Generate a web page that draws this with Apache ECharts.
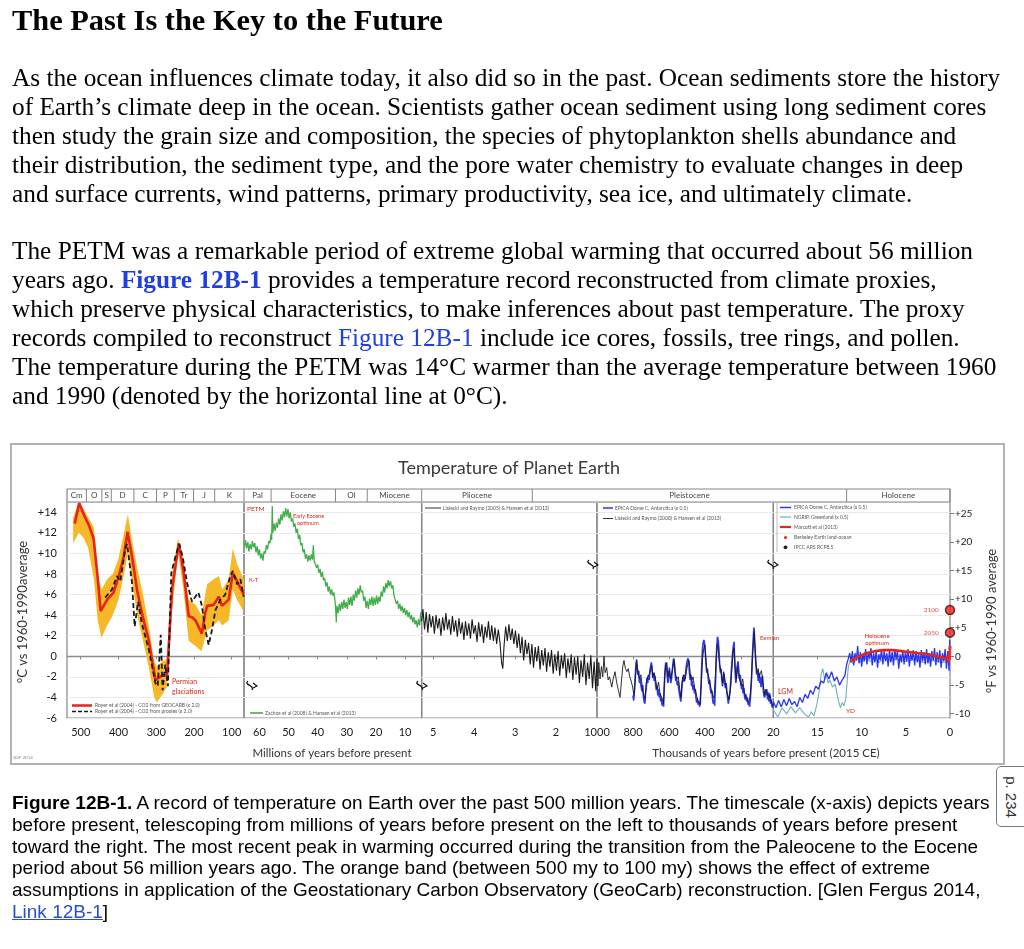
<!DOCTYPE html>
<html lang="en">
<head>
<meta charset="utf-8">
<title>The Past Is the Key to the Future</title>
<script src="https://cdn.jsdelivr.net/npm/echarts@6/dist/echarts.min.js"></script>
<style>
  body { margin: 0; width: 1024px; height: 949px; background: #fff; position: relative; overflow: hidden; }
  #chart { position: absolute; left: 0; top: 0; width: 1024px; height: 949px; z-index: 0; }
  .blk { position: absolute; left: 12px; white-space: nowrap; color: #000; z-index: 1; }
  #title { top: 2px; font: bold 30.4px/36px "Liberation Serif", serif; }
  .para { font: 25.3px/29px "Liberation Serif", serif; }
  #p1 { top: 63px; }
  #p2 { top: 236px; }
  .fig { color: #1f3fe0; }
  #caption { top: 792px; font: 19px/21.8px "Liberation Sans", Arial, sans-serif; }
  #caption a { color: #2a4fc9; text-decoration: underline; }
  #tag { position: absolute; left: 996px; top: 766px; width: 34px; height: 61px; border: 1px solid #7a7a7a;
         border-radius: 5px; box-sizing: border-box; z-index: 1; background: #fff; }
  #tag span { position: absolute; left: 14px; top: 50%; transform: translate(-50%, -50%) rotate(90deg);
              font: 15px "Liberation Sans", sans-serif; color: #333; white-space: nowrap; }
</style>
</head>
<body>
<div id="chart"></div>

<div id="title" class="blk">The Past Is the Key to the Future</div>
<div id="p1" class="blk para">
As the ocean influences climate today, it also did so in the past. Ocean sediments store the history<br>
of Earth’s climate deep in the ocean. Scientists gather ocean sediment using long sediment cores<br>
then study the grain size and composition, the species of phytoplankton shells abundance and<br>
their distribution, the sediment type, and the pore water chemistry to evaluate changes in deep<br>
and surface currents, wind patterns, primary productivity, sea ice, and ultimately climate.
</div>
<div id="p2" class="blk para">
The PETM was a remarkable period of extreme global warming that occurred about 56 million<br>
years ago. <b class="fig">Figure 12B-1</b> provides a temperature record reconstructed from climate proxies,<br>
which preserve physical characteristics, to make inferences about past temperature. The proxy<br>
records compiled to reconstruct <span class="fig">Figure 12B-1</span> include ice cores, fossils, tree rings, and pollen.<br>
The temperature during the PETM was 14°C warmer than the average temperature between 1960<br>
and 1990 (denoted by the horizontal line at 0°C).
</div>
<div id="caption" class="blk">
<b>Figure 12B-1.</b> A record of temperature on Earth over the past 500 million years. The timescale (x-axis) depicts years<br>
before present, telescoping from millions of years before present on the left to thousands of years before present<br>
toward the right. The most recent peak in warming occurred during the transition from the Paleocene to the Eocene<br>
period about 56 million years ago. The orange band (between 500 my to 100 my) shows the effect of extreme<br>
assumptions in application of the Geostationary Carbon Observatory (GeoCarb) reconstruction. [Glen Fergus 2014,<br>
<a>Link 12B-1</a>]
</div>
<div id="tag"><span>p. 234</span></div>

<script>
// ---- data: [age, °C vs 1960-1990] ----
// panel 1, millions of years
var royerGeocarb = [[516,12.9],[504,14.9],[492,13.8],[479,12.8],[466,11.5],[456,8.0],[447,4.4],[430,5.5],[413,6.2],[399,7.8],[386,9.7],[376,12.1],[364,9.7],[351,6.5],[338,4.2],[320,1.6],[302,-2.3],[285,-1.9],[271,-1.8],[258,6.5],[240,11.0],[227,8.1],[214,3.9],[205,3.8],[196,3.5],[179,2.2],[170,4.2],[165,4.9],[148,5.0],[134,5.8],[126,4.9],[108,5.5],[97,8.1],[86,7.3],[68,6.0]];
var royerProxy = [[435,5.7],[417,6.5],[404,7.8],[395,7.3],[382,10.5],[377,10.9],[364,7.1],[357,2.9],[348,5.3],[338,3.2],[320,0.7],[302,-2.6],[296,-2.9],[288,2.1],[283,-3.3],[276,-0.8],[269,-2.9],[260,8.1],[249,9.7],[239,10.9],[230,9.7],[218,7.1],[205,5.3],[196,5.8],[188,6.2],[179,4.9],[170,2.6],[161,1.1],[152,2.6],[143,4.5],[130,5.5],[117,6.0],[104,7.8],[97,8.3],[86,7.0],[77,7.5],[68,5.8]];
var geocarbAge = [520,505,492,480,465,455,445,430,415,400,385,375,365,350,335,320,305,298,285,272,258,242,228,214,196,180,165,148,134,125,108,97,86,68];
var geocarbLo = [11.0,12.0,11.5,10.5,7.5,3.5,1.8,3.0,4.0,5.5,8.0,10.0,7.5,4.0,1.5,-1.0,-4.0,-4.5,-3.8,-3.0,4.5,10.0,6.5,1.5,1.0,0.5,2.5,3.0,3.5,3.0,3.5,6.5,5.5,4.3];
var geocarbHi = [13.5,15.0,14.3,13.5,12.5,8.0,6.5,7.5,8.0,9.5,12.0,13.8,11.5,8.5,6.0,3.0,-0.5,-1.0,-0.5,-0.3,8.0,11.5,9.0,5.5,5.0,4.0,7.0,7.5,7.8,6.5,7.5,10.5,9.0,7.5];

// panel 2, millions of years
var zachos = [[65.2,10.6],[64.8,11.3],[64.4,10.5],[64.0,11.1],[63.6,10.2],[63.2,10.9],[62.8,10.4],[62.4,11.2],[62.0,10.6],[61.6,11.0],[61.2,10.1],[60.8,10.7],[60.4,9.8],[60.0,10.4],[59.6,9.5],[59.2,10.0],[58.8,9.3],[58.4,10.2],[58.0,10.0],[57.6,10.8],[57.2,10.4],[56.8,11.2],[56.4,11.0],[56.0,11.9],[55.8,11.3],[55.6,14.6],[55.4,12.0],[55.0,12.9],[54.6,12.2],[54.2,13.0],[53.8,12.5],[53.4,13.4],[53.0,12.8],[52.6,13.8],[52.2,13.2],[51.8,14.1],[51.4,13.5],[51.0,14.4],[50.6,13.6],[50.2,14.3],[49.8,13.4],[49.4,14.0],[49.0,13.1],[48.6,13.4],[48.2,12.6],[47.8,12.9],[47.4,12.0],[47.0,12.4],[46.6,11.4],[46.2,11.8],[45.8,10.8],[45.4,11.0],[45.0,10.1],[44.6,10.4],[44.2,9.5],[43.8,9.9],[43.4,9.2],[43.0,9.8],[42.6,9.3],[42.2,9.9],[41.8,9.4],[41.5,10.8],[41.2,9.2],[40.8,9.0],[40.4,8.6],[40.0,8.9],[39.6,8.1],[39.2,8.5],[38.8,7.7],[38.4,8.2],[38.0,7.4],[37.6,7.6],[37.2,6.8],[36.8,7.2],[36.4,6.3],[36.0,6.8],[35.6,6.0],[35.2,6.5],[34.8,5.9],[34.4,6.2],[34.0,5.2],[33.8,4.4],[33.6,3.3],[33.4,4.9],[33.0,4.2],[32.6,5.1],[32.2,4.4],[31.8,5.3],[31.4,4.6],[31.0,5.5],[30.6,4.7],[30.2,5.3],[29.8,4.6],[29.4,5.7],[29.0,5.0],[28.6,5.8],[28.2,4.9],[27.8,6.0],[27.4,5.4],[27.0,6.4],[26.6,5.7],[26.2,6.6],[25.8,6.0],[25.4,6.9],[25.0,6.2],[24.6,6.4],[24.2,5.4],[23.8,5.8],[23.4,4.7],[23.0,5.4],[22.6,4.6],[22.2,5.6],[21.8,5.0],[21.4,5.8],[21.0,4.9],[20.6,5.7],[20.2,5.0],[19.8,5.9],[19.4,5.1],[19.0,5.8],[18.6,5.3],[18.2,6.3],[17.8,5.8],[17.4,6.8],[17.0,6.2],[16.6,7.1],[16.2,6.6],[15.8,7.4],[15.4,6.8],[15.0,7.3],[14.6,6.6],[14.2,6.9],[13.8,5.9],[13.4,6.0],[13.0,5.1],[12.6,5.4],[12.2,4.6],[11.8,5.1],[11.4,4.4],[11.0,4.9],[10.6,4.2],[10.2,4.7],[9.8,4.0],[9.4,4.5],[9.0,3.8],[8.6,4.3],[8.2,3.6],[7.8,4.0],[7.4,3.3],[7.0,3.8],[6.6,3.1],[6.2,3.5],[5.8,2.8],[5.4,3.6],[5.0,3.0],[4.6,4.3]];

// panel 3, millions of years
var lisieckiMa = [[5.28,3.4],[5.25,4.6],[5.21,2.6],[5.17,4.3],[5.13,2.3],[5.09,4.1],[5.05,2.8],[5.01,3.9],[4.97,2.2],[4.93,4.0],[4.89,2.7],[4.85,3.7],[4.81,2.0],[4.77,3.8],[4.73,2.5],[4.69,4.2],[4.65,2.6],[4.61,3.6],[4.57,2.1],[4.53,3.9],[4.49,2.4],[4.45,3.5],[4.41,1.9],[4.37,3.7],[4.33,2.2],[4.29,3.3],[4.25,1.6],[4.21,3.4],[4.17,2.0],[4.13,3.2],[4.09,1.7],[4.05,3.6],[4.01,2.2],[3.97,3.0],[3.93,1.4],[3.89,3.3],[3.85,1.9],[3.81,3.1],[3.77,1.3],[3.73,2.9],[3.69,1.8],[3.65,3.4],[3.61,1.6],[3.57,3.0],[3.53,1.5],[3.49,2.8],[3.45,1.2],[3.41,2.6],[3.37,1.4],[3.33,-0.6],[3.30,-1.2],[3.27,1.0],[3.23,2.9],[3.19,1.5],[3.15,3.1],[3.11,1.6],[3.07,2.7],[3.03,1.2],[2.99,2.5],[2.95,0.8],[2.91,2.2],[2.87,0.3],[2.83,1.9],[2.79,-0.4],[2.75,1.6],[2.71,0.2],[2.67,1.3],[2.63,-0.8],[2.59,1.2],[2.55,-1.1],[2.51,0.9],[2.47,-0.5],[2.43,1.0],[2.39,-1.3],[2.35,0.6],[2.31,-0.9],[2.27,0.8],[2.23,-1.5],[2.19,0.4],[2.15,-1.0],[2.11,0.6],[2.07,-1.7],[2.03,0.2],[1.99,-1.4],[1.95,0.5],[1.91,-1.9],[1.87,0.1],[1.83,-1.2],[1.79,0.3],[1.75,-2.1],[1.71,-0.2],[1.67,-1.6],[1.63,0.2],[1.59,-2.3],[1.55,-0.1],[1.51,-1.8],[1.47,0.0],[1.43,-2.6],[1.39,-0.4],[1.35,-2.0],[1.31,0.2],[1.27,-2.8],[1.23,-0.6],[1.19,-2.2],[1.15,0.1],[1.11,-3.1],[1.07,-0.5],[1.03,-3.4],[1.00,-0.2]];

// panel 4, thousands of years
var lisieckiKa = [[1000,-0.4],[995,-2.9],[990,-0.6],[983,-2.2],[975,-1.0],[968,-2.0],[961,0.0],[955,-1.6],[946,-1.1],[938,-2.3],[930,-2.0],[918,-3.0],[910,-2.2],[900,-1.5],[890,-2.6],[880,-3.4],[872,-4.0],[864,-2.4],[856,-0.9],[850,-0.4],[842,-1.2],[834,-1.5],[826,-1.2],[818,-2.0],[810,-2.4],[802,-3.0],[794,-3.8],[786,-2.0],[780,-0.5],[772,-1.6],[764,-2.2],[756,-1.8],[748,-3.0],[740,-3.8],[733,-4.1],[726,-2.6],[718,-2.0],[710,-1.8],[702,-1.4],[696,-0.9],[690,-2.0],[682,-1.6],[674,-2.3],[666,-3.2],[658,-2.5],[650,-3.6],[640,-4.0],[631,-4.6],[624,-2.0],[618,-0.9],[612,-0.6],[606,-2.0],[598,-1.4],[590,-2.2],[580,-1.2],[572,-0.3],[566,-1.5],[558,-2.2],[548,-2.0],[540,-3.2],[533,-4.0],[527,-2.5],[520,-1.8],[512,-2.4],[504,-1.6],[496,-0.8],[489,-0.4],[482,-1.6],[474,-2.4],[466,-2.0],[458,-3.0],[450,-3.5],[442,-4.2],[434,-4.5],[427,-4.7],[420,-2.5],[413,-0.2],[406,0.8],[400,1.1],[394,-0.5],[388,-1.5],[380,-1.9],[372,-2.6],[364,-3.3],[356,-3.8],[350,-4.1],[342,-2.0],[336,0.2],[330,1.2],[325,1.3],[318,-0.8],[310,-1.6],[302,-2.6],[296,-1.5],[288,-2.4],[280,-3.3],[272,-3.9],[266,-4.2],[258,-3.2],[250,-1.2],[244,0.3],[238,0.8],[233,-0.8],[226,-2.2],[220,-1.0],[214,-1.6],[206,-2.4],[198,-2.9],[190,-2.2],[182,-3.4],[174,-3.9],[166,-4.2],[158,-4.5],[150,-4.0],[142,-2.4],[136,0.0],[130,1.6],[126,2.4],[122,1.2],[116,-0.7],[110,-1.6],[104,-1.2],[98,-2.1],[92,-1.6],[86,-1.4],[80,-2.2],[74,-3.0],[68,-3.7],[62,-3.2],[56,-3.5],[50,-3.6],[44,-4.0],[38,-3.8],[32,-4.3],[26,-4.6],[20,-4.8]];
var epicaKa = [[800,-3.8],[796,-4.3],[792,-3.4],[788,-2.2],[784,-0.9],[780,-0.3],[776,-1.2],[772,-1.8],[768,-1.4],[764,-2.6],[760,-2.1],[755,-2.9],[750,-3.4],[746,-2.8],[742,-3.9],[738,-4.4],[734,-4.6],[730,-3.6],[726,-3.0],[722,-2.1],[718,-2.6],[714,-1.8],[710,-2.3],[706,-1.4],[702,-1.0],[698,-0.6],[694,-1.2],[690,-2.1],[686,-1.6],[682,-2.4],[678,-1.9],[674,-2.8],[670,-3.3],[666,-2.9],[662,-3.8],[658,-3.2],[654,-4.0],[650,-3.6],[646,-4.4],[642,-4.0],[638,-4.8],[634,-4.5],[630,-4.9],[626,-3.0],[622,-1.4],[618,-0.6],[614,-0.9],[610,-1.8],[606,-2.6],[602,-2.0],[598,-1.1],[594,-1.8],[590,-2.6],[586,-2.2],[582,-1.5],[578,-0.8],[574,-0.2],[570,-0.6],[566,-1.6],[562,-2.4],[558,-2.0],[554,-2.8],[550,-2.4],[546,-3.2],[542,-3.6],[538,-4.0],[534,-4.4],[530,-3.5],[526,-2.6],[522,-2.0],[518,-2.5],[514,-1.8],[510,-2.2],[506,-1.3],[502,-0.8],[498,-0.4],[494,-0.2],[490,-0.5],[486,-1.6],[482,-2.3],[478,-1.8],[474,-2.9],[470,-2.4],[466,-3.3],[462,-2.8],[458,-3.6],[454,-3.2],[450,-4.0],[446,-4.5],[442,-4.1],[438,-4.7],[434,-4.4],[430,-4.9],[426,-4.6],[422,-3.0],[418,-1.0],[414,0.6],[410,1.3],[406,1.6],[402,1.2],[398,0.4],[394,-0.8],[390,-1.6],[386,-1.2],[382,-2.1],[378,-2.7],[374,-2.3],[370,-3.2],[366,-3.6],[362,-3.3],[358,-4.1],[354,-4.6],[350,-4.2],[346,-4.8],[342,-3.0],[338,-0.6],[334,1.0],[330,1.9],[326,1.5],[322,0.6],[318,-0.9],[314,-1.6],[310,-1.2],[306,-2.3],[302,-2.9],[298,-2.2],[294,-1.7],[290,-2.6],[286,-3.1],[282,-2.6],[278,-3.5],[274,-4.0],[270,-4.6],[266,-4.1],[262,-3.6],[258,-2.8],[254,-1.6],[250,-0.6],[246,0.4],[242,1.0],[238,1.4],[236,0.2],[232,-1.6],[228,-2.6],[224,-1.9],[220,-0.9],[216,-0.5],[212,-1.4],[208,-2.2],[204,-1.8],[200,-2.6],[196,-3.2],[192,-2.7],[188,-3.6],[184,-3.1],[180,-3.9],[176,-4.2],[172,-3.7],[168,-4.4],[164,-4.0],[160,-4.7],[156,-4.5],[152,-4.9],[148,-4.2],[144,-3.2],[140,-1.8],[136,0.0],[132,1.5],[128,2.8],[126,2.5],[124,1.4],[120,0.2],[116,-1.0],[112,-1.8],[108,-1.4],[104,-2.4],[100,-1.6],[96,-2.6],[92,-2.0],[88,-3.0],[84,-2.4],[80,-1.9],[76,-3.2],[72,-3.8],[68,-4.0],[64,-3.4],[60,-3.8],[56,-3.2],[52,-4.2],[48,-3.5],[44,-4.4],[40,-3.6],[36,-4.6],[32,-4.2],[28,-4.8],[24,-5.0],[20,-4.6]];

// panel 5, thousands of years
var epicaHolo = [[20,-4.4],[19.7,-5.0],[19.4,-4.3],[19.1,-4.9],[18.8,-4.2],[18.5,-4.8],[18.2,-4.1],[17.9,-4.7],[17.6,-4.4],[17.3,-4.9],[17.0,-4.0],[16.7,-4.5],[16.4,-3.7],[16.1,-4.1],[15.8,-3.3],[15.5,-3.7],[15.2,-2.9],[14.9,-3.2],[14.6,-2.4],[14.3,-2.6],[14.0,-1.6],[13.7,-2.2],[13.4,-1.5],[13.1,-2.4],[12.8,-2.0],[12.5,-2.8],[12.2,-2.3],[11.9,-1.9],[11.7,-0.8],[11.5,-0.2],[11.35,0.3],[11.2,-0.6],[11.05,0.5],[10.9,-0.9],[10.75,0.3],[10.6,-0.4],[10.45,1.0],[10.3,-0.7],[10.15,0.4],[10.0,-1.0],[9.85,0.2],[9.7,-0.5],[9.55,0.7],[9.4,-0.8],[9.25,0.4],[9.1,-0.3],[8.95,0.8],[8.8,-0.9],[8.65,0.3],[8.5,-0.6],[8.35,0.6],[8.2,-1.1],[8.05,0.2],[7.9,-0.4],[7.75,0.7],[7.6,-0.8],[7.45,0.5],[7.3,-0.5],[7.15,0.3],[7.0,-1.0],[6.85,0.6],[6.7,-0.6],[6.55,0.4],[6.4,-0.9],[6.25,0.7],[6.1,-0.3],[5.95,0.5],[5.8,-1.2],[5.65,0.2],[5.5,-0.6],[5.35,0.6],[5.2,-0.8],[5.05,0.4],[4.9,-0.5],[4.75,0.7],[4.6,-1.0],[4.45,0.3],[4.3,-0.4],[4.15,0.6],[4.0,-0.9],[3.85,0.5],[3.7,-0.6],[3.55,0.3],[3.4,-1.1],[3.25,0.6],[3.1,-0.5],[2.95,0.4],[2.8,-0.8],[2.65,0.7],[2.5,-0.7],[2.35,0.3],[2.2,-1.0],[2.05,0.5],[1.9,-0.4],[1.75,0.8],[1.6,-0.9],[1.45,0.4],[1.3,-0.6],[1.15,0.6],[1.0,-1.1],[0.85,0.3],[0.7,-0.5],[0.55,0.7],[0.4,-1.2],[0.25,0.5],[0.1,-1.4],[0.03,1.6]];
var ngrip = [[20,-5.2],[19.5,-5.9],[19.0,-5.0],[18.5,-5.6],[18.0,-4.9],[17.5,-5.5],[17.0,-5.0],[16.5,-5.6],[16.0,-5.9],[15.7,-5.4],[15.4,-5.8],[15.1,-4.8],[14.8,-3.4],[14.6,-1.8],[14.4,-1.2],[14.2,-2.2],[14.0,-1.8],[13.8,-2.6],[13.6,-2.3],[13.3,-3.0],[13.0,-2.7],[12.8,-3.6],[12.6,-4.4],[12.4,-5.0],[12.2,-4.5],[12.0,-4.8],[11.8,-4.2],[11.6,-2.0],[11.5,-1.0],[11.3,-0.4],[11.0,-0.7],[10.5,-0.3],[10.0,-0.6],[9.5,-0.2],[9.0,-0.5],[8.5,-0.1],[8.0,-0.6],[7.5,-0.2],[7.0,-0.4],[6.0,-0.3],[5.0,-0.5],[4.0,-0.3],[3.0,-0.6],[2.0,-0.4],[1.0,-0.6],[0.0,-0.5]];
var marcott = [[11.3,-0.5],[10.5,-0.1],[9.5,0.3],[8.5,0.5],[7.5,0.6],[6.5,0.6],[5.5,0.5],[4.5,0.4],[3.5,0.3],[2.5,0.2],[1.5,0.0],[0.5,-0.2],[0.1,-0.3]];
var berkeley = [[0.16,-0.5],[0.14,-0.1],[0.12,-0.3],[0.10,0.0],[0.08,-0.2],[0.06,0.2],[0.04,0.4],[0.02,0.7],[0.0,0.9]];
var ipccAge = [0, 0];
var ipccTemp = [2.3, 4.5];
var ipccYear = ['2050', '2100'];

// tick labels
var ticksMa1 = [500, 400, 300, 200, 100];
var ticksMa2 = [60, 50, 40, 30, 20, 10];
var ticksMa3 = [5, 4, 3, 2];
var ticksKa4 = [1000, 800, 600, 400, 200];
var ticksKa5 = [20, 15, 10, 5, 0];
var ticksC = [-6, -4, -2, 0, 2, 4, 6, 8, 10, 12, 14];
var ticksF = [-10, -5, 0, 5, 10, 15, 20, 25];

// geological header: [panel, age]
var eraNames = ['Cm','O','S','D','C','P','Tr','J','K','Pal','Eocene','Ol','Miocene','Pliocene','Pleistocene','Holocene'];
var eraFrom = [[0,536.3],[0,485],[0,444],[0,419],[0,359],[0,299],[0,252],[0,201],[0,145],[1,65.3],[1,56],[1,33.9],[1,23],[2,5.28],[2,2.58],[4,11.7]];
var eraTo = [[0,485],[0,444],[0,419],[0,359],[0,299],[0,252],[0,201],[0,145],[0,67.4],[1,56],[1,33.9],[1,23],[1,4.3],[2,2.58],[4,11.7],[4,0]];

// ---- layout ----
var gridLeft = [67, 244, 421.7, 597, 773.3];
var gridRight = [244, 421.7, 597, 773.3, 950];
var xRange = [[67.4, 536.3], [4.3, 65.3], [1, 5.28], [20, 1000], [0, 20]];
var xTicks = [ticksMa1, ticksMa2, ticksMa3, ticksKa4, ticksKa5];
var FONT = 'Lato';

var chart = echarts.init(document.getElementById('chart'));

var grids = gridLeft.map(function (l, i) {
  return { left: l, top: 502, width: gridRight[i] - l, height: 216, show: true,
           borderColor: '#858585', borderWidth: 1.2, outerBoundsMode: 'none' };
});
var xAxes = xRange.map(function (r, i) {
  return { type: 'value', gridIndex: i, inverse: true, min: r[0], max: r[1],
    axisLine: { show: false }, splitLine: { show: false },
    axisTick: { show: true, customValues: xTicks[i], length: 3, lineStyle: { color: '#888' } },
    axisLabel: { customValues: xTicks[i], color: '#1a1a1a', fontSize: 11, fontFamily: FONT, margin: 9,
      formatter: function (v) { return String(v); } } };
});
var yAxes = gridLeft.map(function (l, i) {
  return { type: 'value', gridIndex: i, min: -6, max: 15, interval: 2,
    axisLine: { show: false }, axisTick: { show: false },
    splitLine: { show: true, lineStyle: { color: '#e9e9e9', width: 1 } },
    axisLabel: i === 0 ? { customValues: ticksC, color: '#1a1a1a', fontSize: 11, fontFamily: FONT, margin: 10,
      formatter: function (v) { return v > 0 ? '+' + v : String(v); } } : { show: false } };
});
yAxes.push({ type: 'value', gridIndex: 4, position: 'right', min: -10.8, max: 27,
  axisLine: { show: false }, splitLine: { show: false },
  axisTick: { show: true, customValues: ticksF, length: 4, lineStyle: { color: '#777' } },
  axisLabel: { customValues: ticksF, color: '#1a1a1a', fontSize: 10, fontFamily: FONT, margin: 5,
    formatter: function (v) { return v > 0 ? '+' + v : String(v); } } });

var zeroLine = { silent: true, symbol: 'none', z: 1, label: { show: false },
  lineStyle: { color: '#8c8c8c', width: 1.3, type: 'solid' }, data: [{ yAxis: 0 }] };

function line(data, idx, color, width, extra) {
  var s = { type: 'line', xAxisIndex: idx, yAxisIndex: idx, data: data, symbol: 'none',
            lineStyle: { color: color, width: width }, z: 3 };
  for (var k in extra) s[k] = extra[k];
  return s;
}

var series = [
  { type: 'custom', xAxisIndex: 0, yAxisIndex: 0, data: [[300, 0]], z: 2, markLine: zeroLine,
    renderItem: function (params, api) {
      var pts = [];
      for (var i = 0; i < geocarbAge.length; i++) pts.push(api.coord([geocarbAge[i], geocarbHi[i]]));
      for (var j = geocarbAge.length - 1; j >= 0; j--) pts.push(api.coord([geocarbAge[j], geocarbLo[j]]));
      return { type: 'polygon', shape: { points: pts }, style: { fill: '#f6b826' } };
    } },
  line(royerGeocarb, 0, '#e8231d', 2.6, {}),
  line(royerProxy, 0, '#1a1a1a', 1.8, { lineStyle: { color: '#1a1a1a', width: 1.8, type: [5, 3] }, z: 4 }),
  line(zachos, 1, '#43ac4b', 1.3, { markLine: zeroLine }),
  line(lisieckiMa, 2, '#1a1a1a', 1.1, { markLine: zeroLine }),
  line(epicaKa, 3, '#2b35f0', 1.6, { markLine: zeroLine }),
  line(lisieckiKa, 3, '#1a1a1a', 0.9, { z: 4 }),
  line(ngrip, 4, '#6fb2b8', 1.1, { markLine: zeroLine }),
  line(epicaHolo, 4, '#2b35f0', 1.3, { z: 4 }),
  line(marcott, 4, '#e3261c', 2.6, { z: 5 }),
  { type: 'scatter', xAxisIndex: 4, yAxisIndex: 4, data: berkeley, symbolSize: 3.5, clip: false, z: 5,
    itemStyle: { color: '#ee2a20' } },
  { type: 'scatter', xAxisIndex: 4, yAxisIndex: 4, clip: false, z: 6, symbolSize: 9,
    data: ipccAge.map(function (a, i) { return { value: [a, ipccTemp[i]], name: ipccYear[i] }; }),
    itemStyle: { color: '#e8261e', borderColor: '#4a0b08', borderWidth: 1.5 },
    label: { show: true, position: 'left', distance: 6, formatter: '{b}', color: '#d9261c', fontSize: 6.5, fontFamily: FONT } }
];

chart.setOption({
  animation: false,
  grid: grids, xAxis: xAxes, yAxis: yAxes, series: series
});

// ---- decorations ----
function txt(t, x, y, size, color, align, rot) {
  return { type: 'text', x: x, y: y, rotation: rot || 0, z: 10,
    style: { text: t, fontSize: size, fontFamily: FONT, fill: color, align: align || 'left', verticalAlign: 'middle' } };
}
function seg(x1, y1, x2, y2, color, w, dash) {
  return { type: 'line', z: 10, shape: { x1: x1, y1: y1, x2: x2, y2: y2 },
    style: { stroke: color, lineWidth: w, lineDash: dash || null } };
}
function breakMark(x, y) {
  return [
    { type: 'bezierCurve', z: 10, shape: { x1: x - 4, y1: y - 5, cpx1: x - 9, cpy1: y - 1, cpx2: x + 3, cpy2: y - 1, x2: x, y2: y + 4 },
      style: { stroke: '#111', lineWidth: 1.3, fill: null } },
    { type: 'polyline', z: 10, shape: { points: [[x + 1, y - 3], [x + 5, y], [x + 1, y + 2]] },
      style: { stroke: '#111', lineWidth: 1.1, fill: null } }
  ];
}

var g = [];
g.push({ type: 'rect', z: 0, shape: { x: 11, y: 444, width: 993, height: 320 }, style: { fill: 'none', stroke: '#b3b3b3', lineWidth: 2 } });
g.push(txt('Temperature of Planet Earth', 509, 468, 18, '#3a3a3a', 'center'));
g.push(txt('°C vs 1960-1990average', 23, 612, 13, '#333', 'center', Math.PI / 2));
g.push(txt('°F vs 1960-1990 average', 992, 621, 13, '#333', 'center', Math.PI / 2));
g.push(txt('Millions of years before present', 332, 753, 11.5, '#333', 'center'));
g.push(txt('Thousands of years before present (2015 CE)', 766, 753, 11.5, '#333', 'center'));
g.push(txt('GSF 2014', 13, 758, 4.5, '#888'));

// header row
g.push({ type: 'rect', z: 9, shape: { x: 67, y: 489, width: 883, height: 13 }, style: { fill: '#fff', stroke: '#858585', lineWidth: 1.2 } });
eraNames.forEach(function (n, i) {
  var x1 = chart.convertToPixel({ xAxisIndex: eraFrom[i][0] }, eraFrom[i][1]);
  var x2 = chart.convertToPixel({ xAxisIndex: eraTo[i][0] }, eraTo[i][1]);
  x1 = Math.max(67, x1); x2 = Math.min(950, x2);
  g.push(seg(x2, 489, x2, 502, '#858585', 1));
  g.push(txt(n, (x1 + x2) / 2, 495.5, 8, '#444', 'center'));
});

// legends
g.push(seg(72, 705.5, 92, 705.5, '#e8231d', 2.5));
g.push(txt('Royer et al (2004) - CO2 from GEOCARB (x 2.0)', 95, 705.5, 5, '#555'));
g.push(seg(72, 711.5, 92, 711.5, '#1a1a1a', 1.6, [4, 2]));
g.push(txt('Royer et al (2004) - CO2 from proxies (x 2.0)', 95, 711.5, 5, '#555'));
g.push(seg(250, 713, 263, 713, '#43ac4b', 1.6));
g.push(txt('Zachos et al (2008) & Hansen et al (2013)', 265, 713, 5, '#555'));
g.push(seg(425, 508, 441, 508, '#333', 1));
g.push(txt('Lisiecki and Raymo (2005) & Hansen et al (2013)', 443, 508, 5, '#555'));
g.push(seg(603, 508, 613, 508, '#2b35f0', 1.5));
g.push(txt('EPICA Dome C, Antarctica (x 0.5)', 615, 508, 5, '#555'));
g.push(seg(603, 518.5, 613, 518.5, '#333', 1));
g.push(txt('Lisiecki and Raymo (2008) & Hansen et al (2013)', 615, 518.5, 5, '#555'));
g.push(seg(777, 503, 777, 552, '#bbb', 1));
g.push(seg(780, 507.5, 791, 507.5, '#2b35f0', 1.5));
g.push(txt('EPICA Dome C, Antarctica (x 0.5)', 794, 507.5, 5, '#555'));
g.push(seg(780, 517, 791, 517, '#6fb2b8', 1.2));
g.push(txt('NGRIP, Greenland (x 0.5)', 794, 517, 5, '#555'));
g.push(seg(780, 527, 791, 527, '#e3261c', 2.2));
g.push(txt('Marcott et al (2013)', 794, 527, 5, '#555'));
g.push({ type: 'circle', z: 10, shape: { cx: 785.5, cy: 537.5, r: 1.6 }, style: { fill: '#ee2a20' } });
g.push(txt('Berkeley Earth land-ocean', 794, 537.5, 5, '#555'));
g.push({ type: 'circle', z: 10, shape: { cx: 785.5, cy: 547.3, r: 1.9 }, style: { fill: '#2a1a1a' } });
g.push(txt('IPCC AR5 RCP8.5', 794, 547.3, 5, '#555'));

// annotations
var red = '#d9261c';
g.push(txt('PETM', 247, 509, 6.5, red));
g.push(txt('Early Eocene', 293, 516, 5.5, red));
g.push(txt('optimum', 297, 523, 5.5, red));
g.push(txt('K-T', 249, 580, 6, red));
g.push(txt('Permian', 172, 682, 7, red));
g.push(txt('glaciations', 172, 692, 7, red));
g.push(txt('Eemian', 760, 638, 6, red));
g.push(txt('LGM', 778, 692, 7, red));
g.push(txt('YD', 846, 711, 6.5, red));
g.push(txt('Holocene', 877, 636, 6, red, 'center'));
g.push(txt('optimum', 877, 643, 6, red, 'center'));

// axis break marks
g = g.concat(breakMark(252, 686), breakMark(422, 686), breakMark(593, 565), breakMark(773, 565));

chart.setOption({ graphic: { elements: g } });
</script>
</body>
</html>
